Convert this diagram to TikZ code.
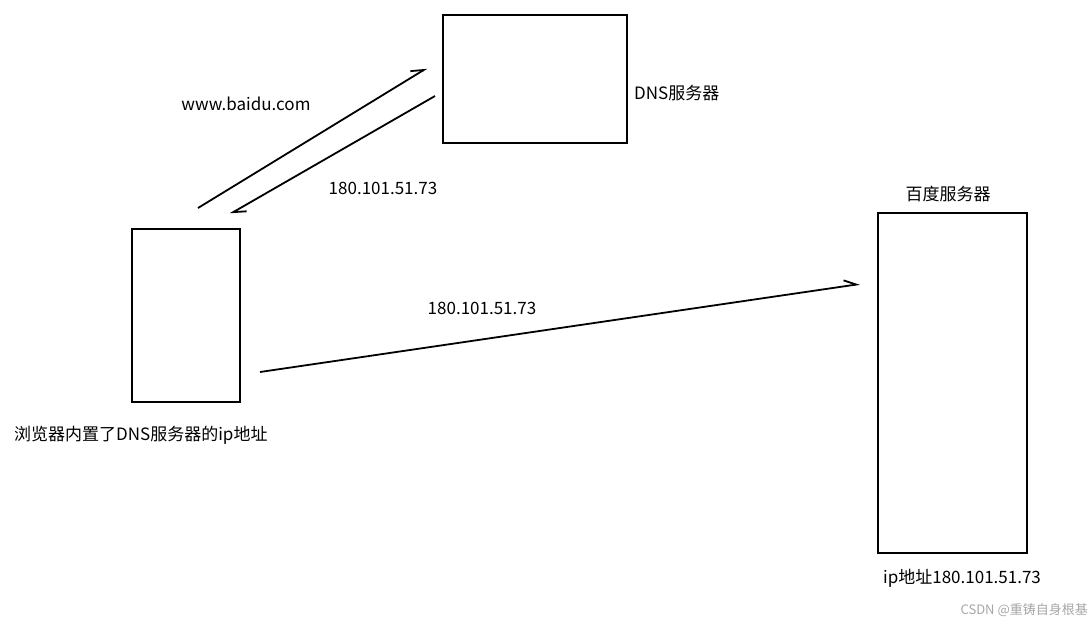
\documentclass[tikz,border=0pt]{standalone}
\usepackage{fontspec}
\setmainfont{Noto Sans CJK SC}
\usetikzlibrary{arrows.meta}
\begin{document}
\begin{tikzpicture}[x=1pt,y=-1pt,
  box/.style={draw,line width=1.8pt},
  lbl/.style={font=\fontsize{17}{20}\selectfont,inner sep=0pt},
  con/.style={line width=1.8pt,-{Straight Barb[length=12pt,width=12pt,left]}}]
\useasboundingbox (0,0) rectangle (1092,629);
\draw[box] (443,15) rectangle (627,143);
\draw[box] (132,229) rectangle (240,402);
\draw[box] (878,213) rectangle (1027,553);
\coordinate (a1) at (198,208); \coordinate (a2) at (427,68);
\coordinate (b1) at (435,96); \coordinate (b2) at (230,214);
\coordinate (c1) at (260,372); \coordinate (c2) at (860,284);
\draw[con] (a1) -- (a2);
\draw[con] (b1) -- (b2);
\draw[con] (c1) -- (c2);
\node[lbl] (t1) at (246,104) {www.baidu.com};
\node[lbl,anchor=west] (t2) at (634,93) {DNS服务器};
\node[lbl] (t3) at (383,188) {180.101.51.73};
\node[lbl] (t4) at (948,194) {百度服务器};
\node[lbl] (t5) at (482,308) {180.101.51.73};
\node[lbl,anchor=west] (t6) at (14,435) {浏览器内置了DNS服务器的ip地址};
\node[lbl] (t7) at (962,578) {ip地址180.101.51.73};
\node[inner sep=0pt,anchor=east,text=gray!70,font=\fontsize{13}{15}\selectfont] (wm) at (1088,610) {CSDN @重铸自身根基};
\end{tikzpicture}
\end{document}
